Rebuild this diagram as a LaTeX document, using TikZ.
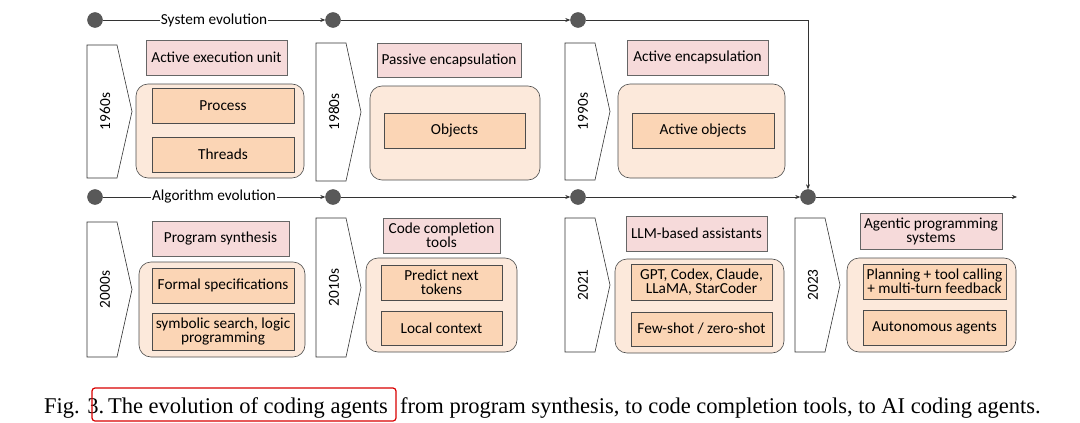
\documentclass[tikz,border=0pt]{standalone}
\usepackage{fontspec}
\setmainfont{Liberation Serif}
\newfontfamily\carfont{Carlito}
\usetikzlibrary{arrows.meta}
\definecolor{pinkf}{HTML}{F6DADA}
\definecolor{contf}{HTML}{FCE9DB}
\definecolor{innf}{HTML}{FBD5B5}
\definecolor{dot}{HTML}{595959}
\begin{document}
\begin{tikzpicture}[x=1pt,y=-1pt,
 font=\carfont\fontsize{15.3}{16}\selectfont,
 dotn/.style={circle,fill=dot,draw=black!70,minimum size=15pt,inner sep=0},
 ln/.style={draw=black!80,line width=0.6pt,-{Stealth[length=5pt,width=4pt]}},
 hdr/.style={draw=black!60,fill=pinkf,line width=0.6pt,align=center},
 cont/.style={draw=black!70,fill=contf,rounded corners=12pt,line width=0.6pt},
 inn/.style={draw=black!70,fill=innf,line width=0.6pt,align=center},
 chev/.style={draw=black!80,fill=white,line width=0.6pt},
 lab/.style={fill=white,inner sep=1pt}]
\useasboundingbox (0,0) rectangle (1080,423);
% timelines
\node[dotn] (t1) at (95,20) {};
\node[dotn] (t2) at (333,20) {};
\node[dotn] (t3) at (578,20) {};
\coordinate (tc) at (808,20);
\node[dotn] (b1) at (95,197) {};
\node[dotn] (b2) at (333,197) {};
\node[dotn] (b3) at (578,197) {};
\node[dotn] (b4) at (808,197) {};
\coordinate (bend) at (1017,197);
\draw[ln] (t1) -- node[lab]{System evolution} (t2);
\draw[ln] (t2) -- (t3);
\draw[ln] (t3) -- (tc) -- (b4);
\draw[ln] (b1) -- node[lab]{Algorithm evolution} (b2);
\draw[ln] (b2) -- (b3);
\draw[ln] (b3) -- (b4);
\draw[ln] (b4) -- (bend);
% chevrons
\newcommand\chev[5]{% x, ytop, ybot, label, name
 \draw[chev] (#1,#2) -- (#1+30,#2) -- (#1+45,{(#2+#3)/2}) -- (#1+30,#3) -- (#1,#3) -- cycle;
 \node[rotate=90] (#5) at (#1+18,{(#2+#3)/2}) {#4};}
\chev{87}{45}{178}{1960s}{c1}
\chev{316}{43}{181}{1980s}{c2}
\chev{565}{43}{180}{1990s}{c3}
\chev{87}{222}{357}{2000s}{c4}
\chev{316}{218}{357}{2010s}{c5}
\chev{565}{218}{352}{2021}{c6}
\chev{795}{218}{352}{2023}{c7}
\newcommand\bx[6]{% style,x1,y1,x2,y2,text
 \path[#1] (#2,#3) rectangle (#4,#5);
 \node[align=center] at ({(#2+#4)/2},{(#3+#5)/2}) {#6};}
% headers
\bx{hdr}{146}{40}{287}{75}{Active execution unit}
\bx{hdr}{377}{43}{521}{77}{Passive encapsulation}
\bx{hdr}{627}{40}{768}{75}{Active encapsulation}
\bx{hdr}{152}{221}{289}{256}{Program synthesis}
\bx{hdr}{383}{218}{500}{253}{Code completion\\[-2pt]tools}
\bx{hdr}{626}{216}{767}{251}{LLM-based assistants}
\bx{hdr}{860}{213}{1002}{249}{Agentic programming\\[-2pt]systems}
% containers
\path[cont] (136,84) rectangle (304,178);
\path[cont] (370,86) rectangle (540,180);
\path[cont] (618,84) rectangle (785,178);
\path[cont] (139,262) rectangle (305,357);
\path[cont] (366,258) rectangle (517,352);
\path[cont] (615,259) rectangle (784,353);
\path[cont] (847,258) rectangle (1016,352);
% inner
\bx{inn}{152}{88}{294}{123}{Process}
\bx{inn}{152}{137}{294}{172}{Threads}
\bx{inn}{384}{113}{525}{148}{Objects}
\bx{inn}{632}{113}{774}{148}{Active objects}
\bx{inn}{152}{268}{294}{303}{Formal specifications}
\bx{inn}{152}{313}{294}{350}{symbolic search, logic\\[-2pt]programming}
\bx{inn}{381}{265}{502}{300}{Predict next\\[-2pt]tokens}
\bx{inn}{381}{311}{502}{345}{Local context}
\bx{inn}{631}{264}{772}{300}{GPT, Codex, Claude,\\[-2pt]LLaMA, StarCoder}
\bx{inn}{631}{312}{772}{346}{Few-shot / zero-shot}
\bx{inn}{863}{264}{1006}{299}{Planning + tool calling\\[-2pt]+ multi-turn feedback}
\bx{inn}{863}{310}{1006}{345}{Autonomous agents}
% caption
\begin{scope}[font=\rmfamily\fontsize{22.5}{24}\selectfont]
\node[anchor=base west,inner sep=0] (f3) at (44,413) {Fig. 3.};
\draw[red!85!black,line width=1.2pt,rounded corners=3pt] (92,388) rectangle (396,421);
\node[anchor=base,inner sep=0] (cap) at (248,413) {The evolution of coding agents};
\node[anchor=base west,inner sep=0] (rest) at (400,413) {from program synthesis, to code completion tools, to AI coding agents.};
\end{scope}
\end{tikzpicture}
\end{document}
